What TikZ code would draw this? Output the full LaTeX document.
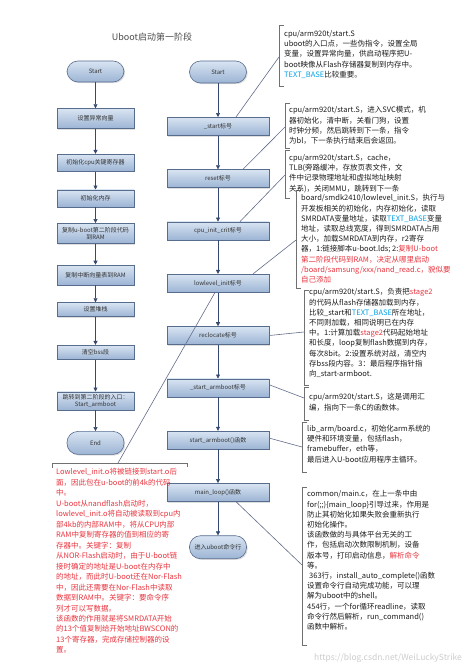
\documentclass[tikz,border=0pt]{standalone}
\usepackage{fontspec}
\setmainfont{Noto Sans CJK SC}
\usepackage{xcolor}
\usetikzlibrary{positioning,arrows.meta,shadows}

\definecolor{boxtop}{RGB}{216,228,242}
\definecolor{boxbot}{RGB}{156,180,212}
\definecolor{boxline}{RGB}{88,108,142}
\definecolor{arrowc}{RGB}{52,72,112}
\definecolor{bracketc}{RGB}{112,112,112}
\definecolor{linkc}{RGB}{98,108,138}
\definecolor{notetext}{RGB}{28,28,28}
\definecolor{notered}{RGB}{232,52,62}
\definecolor{keyblue}{RGB}{0,158,228}

\begin{document}
\begin{tikzpicture}[
    x=1pt, y=-1pt,
    node distance=33.7pt,
    flowbox/.style={rectangle, draw=boxline, line width=0.6pt, top color=boxtop, bottom color=boxbot, drop shadow={opacity=0.25, shadow xshift=1.2pt, shadow yshift=-1.2pt}, align=center, inner sep=1pt, minimum height=18pt, minimum width=102pt, text=black!80, font=\fontsize{6}{7.5}\selectfont},
    lbox/.style={flowbox, minimum width=77pt},
    term/.style={flowbox, rounded corners=11pt, minimum height=22pt, minimum width=57pt},
    note/.style={anchor=north west, inner sep=0pt, align=left, text=notetext, font=\fontsize{7.5}{10.2}\selectfont},
    rednote/.style={note, text=notered, font=\fontsize{7.5}{10.47}\selectfont},
    bracket/.style={draw=bracketc, line width=0.8pt},
    link/.style={draw=linkc, line width=0.6pt},
    arrow/.style={-{Triangle[length=4pt, width=4pt]}, line width=0.6pt, draw=arrowc}
]
    \useasboundingbox (0,0) rectangle (474,669);

    \node [text=black!70, font=\fontsize{9}{11}\selectfont] (title) at (152,37) {Uboot启动第一阶段};

    \node [term, minimum height=21pt] (l0) at (95.5,71.5) {Start};
    \node [lbox, minimum height=20pt, below=26pt of l0] (l1) {设置异常向量};
    \node [lbox, minimum height=17pt, below=25pt of l1] (l2) {初始化cpu关键寄存器};
    \node [lbox, minimum height=17pt, below=18pt of l2] (l3) {初始化内存};
    \node [lbox, minimum height=20pt, below=16pt of l3] (l4) {复制u-boot第二阶段代码\\到RAM};
    \node [lbox, minimum height=20pt, below=21pt of l4] (l5) {复制中断向量表到RAM};
    \node [lbox, minimum height=14pt, below=17pt of l5] (l6) {设置堆栈};
    \node [lbox, minimum height=14pt, below=28pt of l6] (l7) {清空bss段};
    \node [lbox, minimum height=18pt, below=32pt of l7] (l8) {跳转到第二阶段的入口：\\Start\_armboot};
    \node [term, minimum height=23pt, below=21pt of l8] (l9) {End};

    \node [term] (m0) at (218,72) {Start};
    \node [flowbox, below=of m0] (m1) {\_start标号};
    \node [flowbox, below=of m1] (m2) {reset标号};
    \node [flowbox, below=of m2] (m3) {cpu\_init\_crit标号};
    \node [flowbox, below=of m3] (m4) {lowlevel\_init标号};
    \node [flowbox, below=of m4] (m5) {reclocate标号};
    \node [flowbox, below=of m5] (m6) {\_start\_armboot标号};
    \node [flowbox, below=of m6] (m7) {start\_armboot()函数};
    \node [flowbox, below=of m7] (m8) {main\_loop()函数};
    \node [term, minimum height=23pt, below=of m8] (m9) {进入uboot命令行};

    \draw [arrow] (l0) -- (l1);
    \draw [arrow] (l1) -- (l2);
    \draw [arrow] (l2) -- (l3);
    \draw [arrow] (l3) -- (l4);
    \draw [arrow] (l4) -- (l5);
    \draw [arrow] (l5) -- (l6);
    \draw [arrow] (l6) -- (l7);
    \draw [arrow] (l7) -- (l8);
    \draw [arrow] (l8) -- (l9);

    \draw [arrow] (m0) -- (m1);
    \draw [arrow] (m1) -- (m2);
    \draw [arrow] (m2) -- (m3);
    \draw [arrow] (m3) -- (m4);
    \draw [arrow] (m4) -- (m5);
    \draw [arrow] (m5) -- (m6);
    \draw [arrow] (m6) -- (m7);
    \draw [arrow] (m7) -- (m8);
    \draw [arrow] (m8) -- (m9);

    \draw [bracket] (284,25) -- (279,25) -- (279,86) -- (284,86);
    \draw [bracket] (290,103) -- (285,103) -- (285,148) -- (290,148);
    \draw [bracket] (290,150) -- (285,150) -- (285,198) -- (290,198);
    \draw [bracket] (301,190) -- (296,190) -- (296,288) -- (301,288);
    \draw [bracket] (309,290) -- (304,290) -- (304,385) -- (309,385);
    \draw [bracket] (309,387) -- (304,387) -- (304,420) -- (309,420);
    \draw [bracket] (307,422) -- (302,422) -- (302,472) -- (307,472);
    \draw [bracket] (307,487) -- (302,487) -- (302,645) -- (307,645);
    \draw [bracket] (52,468) -- (52,463) -- (187,463) -- (187,467);

    \coordinate (b1) at (279,57);
    \coordinate (b2) at (285,127);
    \coordinate (b3) at (285,175);
    \coordinate (b4) at (296,240);
    \coordinate (b5) at (304,332);
    \coordinate (b6) at (304,398);
    \coordinate (b7) at (302,447);
    \coordinate (b8) at (302,565);
    \coordinate (br) at (118,463);

    \draw [link] ([xshift=18pt]m1.north) -- (b1);
    \draw [link] ([xshift=25pt]m2.north) -- (b2);
    \draw [link] ([xshift=22pt]m3.north) -- (b3);
    \draw [link] ([xshift=35pt]m4.north) -- (b4);
    \draw [link] (m5.east) -- (b5);
    \draw [link] ([yshift=3pt]m6.east) -- (b6);
    \draw [link] ([yshift=2pt]m7.east) -- (b7);
    \draw [link] ([xshift=18pt]m8.south) -- (b8);
    \draw [link] ([xshift=-3pt]m4.south) -- (br);

    \node [note] (t1) at (284,30.4) {cpu/arm920t/start.S\\
        uboot的入口点，一些伪指令，设置全局\\
        变量，设置异常向量，供启动程序把U-\\
        boot映像从Flash存储器复制到内存中。\\
        {\color{keyblue}TEXT\_BASE}比较重要。};
    \node [note] (t2) at (289,106.4) {cpu/arm920t/start.S，进入SVC模式，机\\
        器初始化，清中断，关看门狗，设置\\
        时钟分频，然后跳转到下一条，指令\\
        为bl，下一条执行结束后会返回。};
    \node [note] (t3) at (289,154.4) {cpu/arm920t/start.S，cache，\\
        TLB(旁路缓冲，存放页表文件，文\\
        件中记录物理地址和虚拟地址映射\\
        关系)，关闭MMU，跳转到下一条};
    \node [note] (t4) at (301,194.4) {board/smdk2410/lowlevel\_init.S，执行与\\
        开发板相关的初始化，内存初始化，读取\\
        SMRDATA变量地址，读取{\color{keyblue}TEXT\_BASE}变量\\
        地址，读取总线宽度，得到SMRDATA占用\\
        大小，加载SMRDATA到内存，r2寄存\\
        器，1:链接脚本u-boot.lds; 2:{\color{notered}复制U-boot}\\
        {\color{notered}第二阶段代码到RAM，决定从哪里启动}\\
        {\color{notered}/board/samsung/xxx/nand\_read.c，貌似要}\\
        {\color{notered}自己添加}};
    \node [note] (t5) at (309,288.4) {cpu/arm920t/start.S，负责把{\color{notered}stage2}\\
        的代码从flash存储器加载到内存，\\
        比较\_start和{\color{keyblue}TEXT\_BASE}所在地址，\\
        不同则加载，相同说明已在内存\\
        中。1:计算加载{\color{notered}stage2}代码起始地址\\
        和长度，loop复制flash数据到内存，\\
        每次8bit。2:设置系统对战，清空内\\
        存bss段内容。3：最后程序指针指\\
        向\_start-armboot.};
    \node [note] (t6) at (309,393.4) {cpu/arm920t/start.S，这是调用汇\\
        编，指向下一条C的函数体。};
    \node [note] (t7) at (307,425) {lib\_arm/board.c，初始化arm系统的\\
        硬件和环境变量，包括flash，\\
        framebuffer，eth等，\\
        最后进入U-boot应用程序主循环。};
    \node [note] (t8) at (307,490.4) {common/main.c，在上一条中由\\
        for(;;)\{main\_loop\}引导过来，作用是\\
        防止其初始化如果失败会重新执行\\
        初始化操作。\\
        该函数做的与具体平台无关的工\\
        作，包括启动次数限制机制，设备\\
        版本号，打印启动信息，{\color{notered}解析命令}\\
        等。\\
        \hspace{2pt}363行，install\_auto\_complete()函数\\
        设置命令行自动完成功能，可以理\\
        解为uboot中的shell。\\
        454行，一个for循环readline，读取\\
        命令行然后解析，run\_command()\\
        函数中解析。};
    \node [rednote] (tr) at (56,468.4) {Lowlevel\_init.o将被链接到start.o后\\
        面，因此包在u-boot的前4k的代码\\
        中。\\
        U-boot从nandflash启动时，\\
        lowlevel\_init.o将自动被读取到cpu内\\
        部4kb的内部RAM中，将从CPU内部\\
        RAM中复制寄存器的值到相应的寄\\
        存器中。关键字：复制\\
        从NOR-Flash启动时，由于U-boot链\\
        接时确定的地址是U-boot在内存中\\
        的地址，而此时U-boot还在Nor-Flash\\
        中，因此还需要在Nor-Flash中读取\\
        数据到RAM中。关键字：要命令序\\
        列才可以写数据。\\
        该函数的作用就是将SMRDATA开始\\
        的13个值复制给开始地址BWSCON的\\
        13个寄存器，完成存储控制器的设\\
        置。};

    \node [text=black!20, font=\fontsize{8.5}{10}\selectfont] (wm) at (388,658) {https://blog.csdn.net/WeiLuckyStrike};
\end{tikzpicture}
\end{document}
